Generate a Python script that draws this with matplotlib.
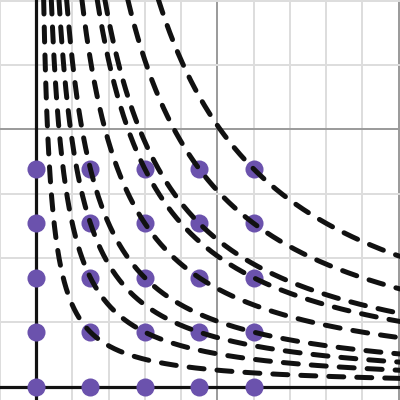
import numpy as np
import matplotlib.pyplot as plt

# lattice points (i, j) and the hyperbolas x*y = k through them
lattice_x = [0, 1, 2, 3, 4]
lattice_y = [0, 1, 2, 3, 4]
levels = [1, 2, 3, 4, 6, 8, 9, 12, 16]

x_min, x_max = -0.662, 6.691
y_min, y_max = -0.248, 7.105
x_step = 2 / 3
y_step = 1.182

fig = plt.figure(figsize=(4, 4), dpi=100)
ax = fig.add_axes([0, 0, 1, 1])
ax.set_xlim(x_min, x_max)
ax.set_ylim(y_min, y_max)
ax.axis("off")

# grid
for n in range(-1, 11):
    gx = n * x_step
    if n == 0:
        continue
    col = "#9a9a9a" if n % 5 == 0 else "#dddddd"
    ax.axvline(gx, color=col, lw=1.4, zorder=1)
for n in range(1, 7):
    gy = n * y_step
    col = "#9a9a9a" if n % 4 == 0 else "#dddddd"
    ax.axhline(gy, color=col, lw=1.4, zorder=1)

# axes
ax.axvline(0, color="#111111", lw=2.3, zorder=2)
ax.axhline(0, color="#111111", lw=2.3, zorder=2)

# points
px, py = np.meshgrid(lattice_x, lattice_y)
ax.plot(px.ravel(), py.ravel(), "o", color="#6b52ad", ms=13, mec="none", zorder=3)

# dashed hyperbolas
for k in levels:
    xs = np.geomspace(k / (y_max + 0.5), x_max + 0.5, 2000)
    ax.plot(xs, k / xs, color="#111111", lw=3.6, ls=(0, (3, 2.6)),
            dash_capstyle="round", zorder=4)

fig.savefig("out.png", dpi=100)
